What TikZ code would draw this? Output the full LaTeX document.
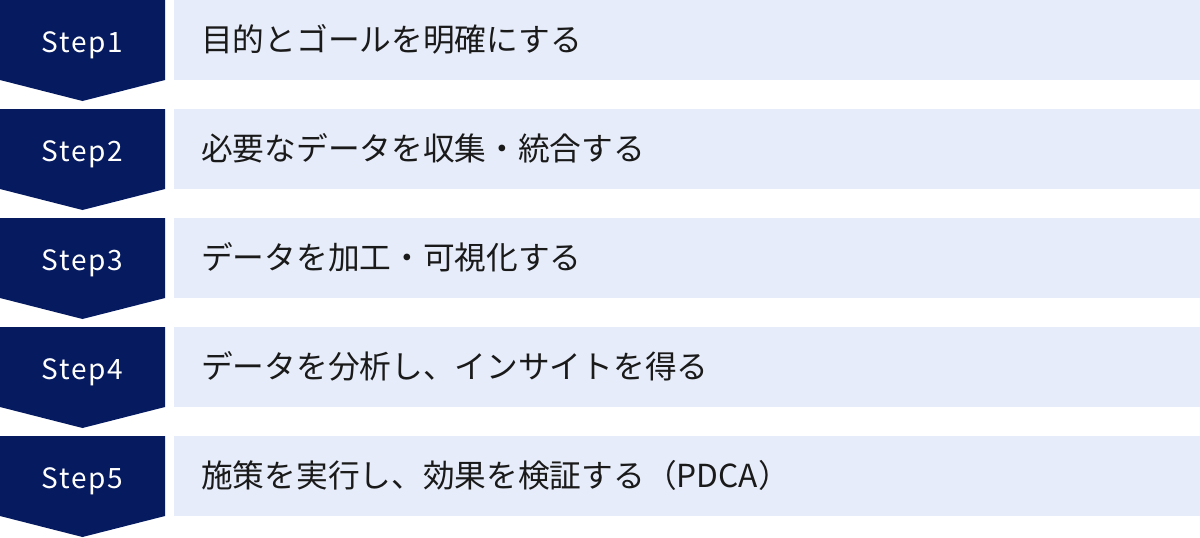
\documentclass[tikz,border=0pt]{standalone}
\usepackage{fontspec}
\setmainfont{Noto Sans CJK JP}
\definecolor{navy}{HTML}{061A60}
\definecolor{pale}{HTML}{E6ECF9}
\definecolor{ink}{HTML}{1A1A1A}
\begin{document}
\begin{tikzpicture}[x=1pt,y=1pt,
  chev/.style={fill=navy,draw=none},
  panel/.style={fill=pale,draw=none},
  steplabel/.style={anchor=base,inner sep=0pt,text=white,font=\fontsize{28}{30}\selectfont\addfontfeatures{LetterSpace=6}},
  desc/.style={anchor=base west,inner sep=0pt,text=ink,font=\fontsize{31.7}{34}\selectfont}]
\useasboundingbox (0,0) rectangle (1200,-538);
\foreach \i/\t in {1/目的とゴールを明確にする,2/必要なデータを収集・統合する,3/データを加工・可視化する,4/データを分析し、インサイトを得る,5/施策を実行し、効果を検証する（PDCA）}{
  \pgfmathsetmacro{\top}{-109*(\i-1)}
  \fill[chev] (0,\top) -- (165,\top) -- (165,\top-80) -- (82.5,\top-101) -- (0,\top-80) -- cycle;
  \fill[panel] (174,\top) rectangle (1200,\top-80);
  \node[steplabel] (s\i) at (82.5,\top-52) {Step\i};
  \node[desc] (d\i) at (201,\top-51.5) {\t};
}
\end{tikzpicture}
\end{document}
